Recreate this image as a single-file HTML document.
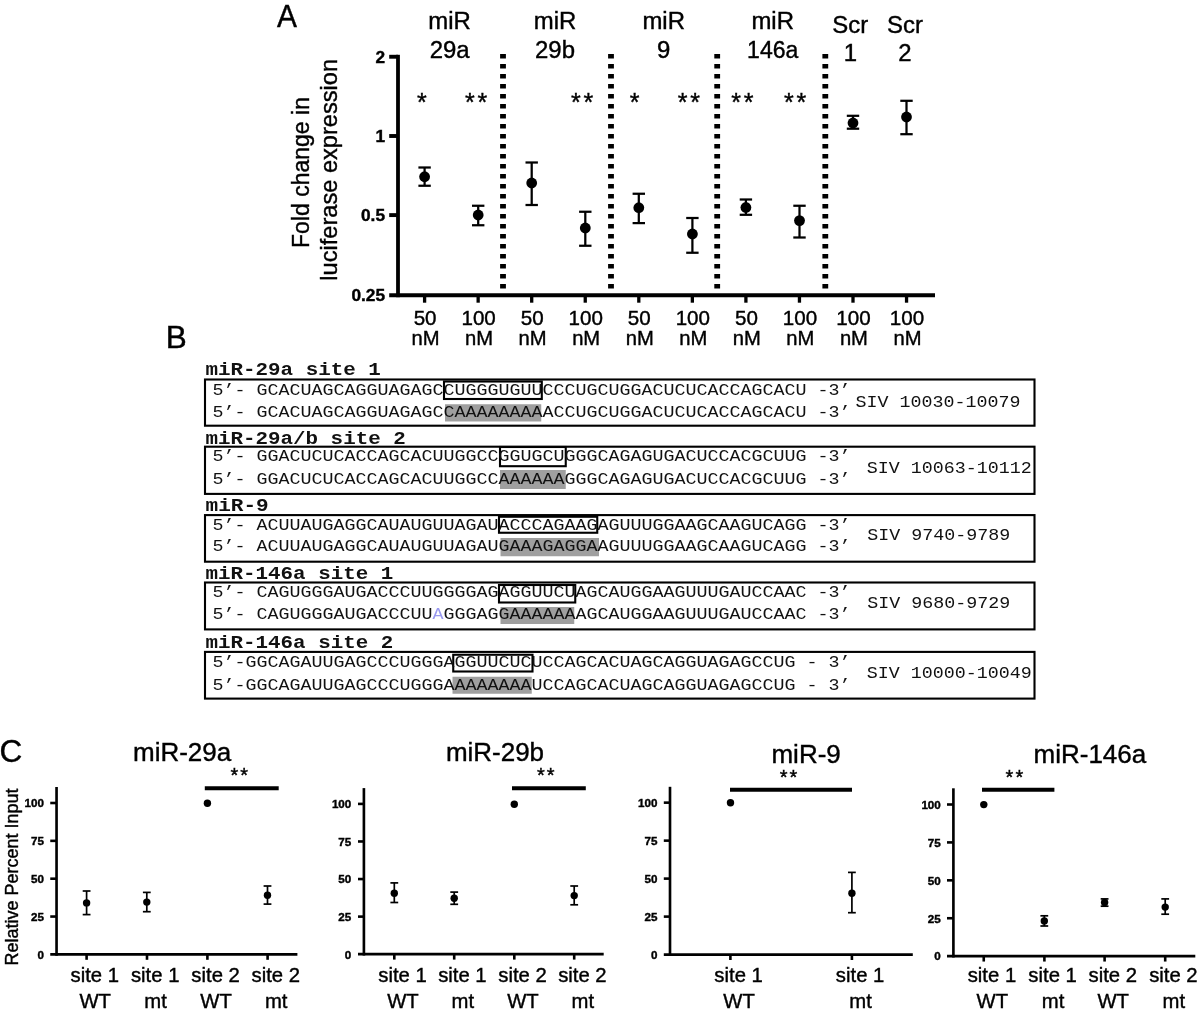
<!DOCTYPE html>
<html lang="en">
<head>
<meta charset="utf-8">
<title>Figure</title>
<style>
html,body{margin:0;padding:0;background:#fff;}
body{width:1200px;height:1013px;overflow:hidden;}
svg{display:block;}
.s{font-family:"Liberation Sans", sans-serif;fill:#000;stroke:#000;stroke-width:0.4px;}
.m{font-family:"Liberation Mono", monospace;fill:#111;}
</style>
</head>
<body>
<svg width="1200" height="1013" viewBox="0 0 1200 1013">
<rect x="0" y="0" width="1200" height="1013" fill="#fff"/>
<text class="s" transform="translate(277 26.7) scale(0.95 1)" font-size="31.5">A</text>
<line x1="398" y1="54.8" x2="398" y2="297.2" stroke="#000" stroke-width="3.8"/>
<line x1="389.2" y1="295.2" x2="935" y2="295.2" stroke="#000" stroke-width="3.9"/>
<line x1="389.2" y1="56.75" x2="398" y2="56.75" stroke="#000" stroke-width="3.9"/>
<text class="s" transform="translate(385.0 62.65) scale(1.04 1)" font-size="16.6" text-anchor="end" font-weight="bold">2</text>
<line x1="389.2" y1="136.0" x2="398" y2="136.0" stroke="#000" stroke-width="3.9"/>
<text class="s" transform="translate(385.0 141.9) scale(1.04 1)" font-size="16.6" text-anchor="end" font-weight="bold">1</text>
<line x1="389.2" y1="215.1" x2="398" y2="215.1" stroke="#000" stroke-width="3.9"/>
<text class="s" transform="translate(385.0 221.0) scale(1.04 1)" font-size="16.6" text-anchor="end" font-weight="bold">0.5</text>
<text class="s" transform="translate(385.0 301.1) scale(1.04 1)" font-size="16.6" text-anchor="end" font-weight="bold">0.25</text>
<line x1="424.6" y1="295.2" x2="424.6" y2="302.7" stroke="#000" stroke-width="3.3"/>
<line x1="478.15" y1="295.2" x2="478.15" y2="302.7" stroke="#000" stroke-width="3.3"/>
<line x1="531.7" y1="295.2" x2="531.7" y2="302.7" stroke="#000" stroke-width="3.3"/>
<line x1="585.25" y1="295.2" x2="585.25" y2="302.7" stroke="#000" stroke-width="3.3"/>
<line x1="638.8" y1="295.2" x2="638.8" y2="302.7" stroke="#000" stroke-width="3.3"/>
<line x1="692.35" y1="295.2" x2="692.35" y2="302.7" stroke="#000" stroke-width="3.3"/>
<line x1="745.9" y1="295.2" x2="745.9" y2="302.7" stroke="#000" stroke-width="3.3"/>
<line x1="799.45" y1="295.2" x2="799.45" y2="302.7" stroke="#000" stroke-width="3.3"/>
<line x1="853.0" y1="295.2" x2="853.0" y2="302.7" stroke="#000" stroke-width="3.3"/>
<line x1="906.55" y1="295.2" x2="906.55" y2="302.7" stroke="#000" stroke-width="3.3"/>
<text class="s" transform="translate(425.1 324.5) scale(1.02 1)" font-size="20.2" text-anchor="middle">50</text>
<text class="s" x="425.5" y="344.5" font-size="20.2" text-anchor="middle">nM</text>
<text class="s" transform="translate(478.65 324.5) scale(1.02 1)" font-size="20.2" text-anchor="middle">100</text>
<text class="s" x="479.05" y="344.5" font-size="20.2" text-anchor="middle">nM</text>
<text class="s" transform="translate(532.2 324.5) scale(1.02 1)" font-size="20.2" text-anchor="middle">50</text>
<text class="s" x="532.6" y="344.5" font-size="20.2" text-anchor="middle">nM</text>
<text class="s" transform="translate(585.75 324.5) scale(1.02 1)" font-size="20.2" text-anchor="middle">100</text>
<text class="s" x="586.15" y="344.5" font-size="20.2" text-anchor="middle">nM</text>
<text class="s" transform="translate(639.3 324.5) scale(1.02 1)" font-size="20.2" text-anchor="middle">50</text>
<text class="s" x="639.7" y="344.5" font-size="20.2" text-anchor="middle">nM</text>
<text class="s" transform="translate(692.85 324.5) scale(1.02 1)" font-size="20.2" text-anchor="middle">100</text>
<text class="s" x="693.25" y="344.5" font-size="20.2" text-anchor="middle">nM</text>
<text class="s" transform="translate(746.4 324.5) scale(1.02 1)" font-size="20.2" text-anchor="middle">50</text>
<text class="s" x="746.8" y="344.5" font-size="20.2" text-anchor="middle">nM</text>
<text class="s" transform="translate(799.95 324.5) scale(1.02 1)" font-size="20.2" text-anchor="middle">100</text>
<text class="s" x="800.35" y="344.5" font-size="20.2" text-anchor="middle">nM</text>
<text class="s" transform="translate(853.5 324.5) scale(1.02 1)" font-size="20.2" text-anchor="middle">100</text>
<text class="s" x="853.9" y="344.5" font-size="20.2" text-anchor="middle">nM</text>
<text class="s" transform="translate(907.05 324.5) scale(1.02 1)" font-size="20.2" text-anchor="middle">100</text>
<text class="s" x="907.45" y="344.5" font-size="20.2" text-anchor="middle">nM</text>
<line x1="503" y1="53.9" x2="503" y2="289.5" stroke="#000" stroke-width="5.8" stroke-dasharray="4.6 5.4"/>
<line x1="611" y1="53.9" x2="611" y2="289.5" stroke="#000" stroke-width="5.8" stroke-dasharray="4.6 5.4"/>
<line x1="717.2" y1="53.9" x2="717.2" y2="289.5" stroke="#000" stroke-width="5.8" stroke-dasharray="4.6 5.4"/>
<line x1="825.3" y1="53.9" x2="825.3" y2="289.5" stroke="#000" stroke-width="5.8" stroke-dasharray="4.6 5.4"/>
<text class="s" transform="translate(449.6 29.3) scale(1.04 1)" font-size="23" text-anchor="middle">miR</text>
<text class="s" transform="translate(449.6 57.5) scale(1.04 1)" font-size="23" text-anchor="middle">29a</text>
<text class="s" transform="translate(555 29.3) scale(1.04 1)" font-size="23" text-anchor="middle">miR</text>
<text class="s" transform="translate(555 57.5) scale(1.04 1)" font-size="23" text-anchor="middle">29b</text>
<text class="s" transform="translate(663.7 29.3) scale(1.04 1)" font-size="23" text-anchor="middle">miR</text>
<text class="s" transform="translate(663.7 57.5) scale(1.04 1)" font-size="23" text-anchor="middle">9</text>
<text class="s" transform="translate(772.7 29.3) scale(1.04 1)" font-size="23" text-anchor="middle">miR</text>
<text class="s" x="772.7" y="57.5" font-size="23" text-anchor="middle">146a</text>
<text class="s" transform="translate(850.3 33) scale(1.04 1)" font-size="23" text-anchor="middle">Scr</text>
<text class="s" transform="translate(850.3 61.3) scale(1.04 1)" font-size="23" text-anchor="middle">1</text>
<text class="s" transform="translate(905.0 33) scale(1.04 1)" font-size="23" text-anchor="middle">Scr</text>
<text class="s" transform="translate(905.0 61.3) scale(1.04 1)" font-size="23" text-anchor="middle">2</text>
<text class="s" font-size="23" text-anchor="middle" transform="translate(308.5 172.5) rotate(-90)">Fold change in</text>
<text class="s" font-size="23" text-anchor="middle" transform="translate(337.3 169.8) rotate(-90) scale(1.027 1)">luciferase expression</text>
<text class="s" x="421.8" y="111.0" font-size="25" text-anchor="middle">*</text>
<text class="s" x="477.6" y="111.0" font-size="25" text-anchor="middle" letter-spacing="2.8">**</text>
<text class="s" x="583.6" y="111.0" font-size="25" text-anchor="middle" letter-spacing="2.8">**</text>
<text class="s" x="634.5999999999999" y="111.0" font-size="25" text-anchor="middle">*</text>
<text class="s" x="690.2" y="111.0" font-size="25" text-anchor="middle" letter-spacing="2.8">**</text>
<text class="s" x="743.7" y="111.0" font-size="25" text-anchor="middle" letter-spacing="2.8">**</text>
<text class="s" x="796.6" y="111.0" font-size="25" text-anchor="middle" letter-spacing="2.8">**</text>
<line x1="424.6" y1="167.5" x2="424.6" y2="185.75" stroke="#000" stroke-width="2.25"/>
<line x1="418.40000000000003" y1="167.5" x2="430.8" y2="167.5" stroke="#000" stroke-width="2.25"/>
<line x1="418.40000000000003" y1="185.75" x2="430.8" y2="185.75" stroke="#000" stroke-width="2.25"/>
<circle cx="424.6" cy="176.75" r="5.4" fill="#000"/>
<line x1="478.2" y1="205.75" x2="478.2" y2="225.25" stroke="#000" stroke-width="2.25"/>
<line x1="472.0" y1="205.75" x2="484.4" y2="205.75" stroke="#000" stroke-width="2.25"/>
<line x1="472.0" y1="225.25" x2="484.4" y2="225.25" stroke="#000" stroke-width="2.25"/>
<circle cx="478.2" cy="215.0" r="5.4" fill="#000"/>
<line x1="531.7" y1="162.5" x2="531.7" y2="205.0" stroke="#000" stroke-width="2.25"/>
<line x1="525.5" y1="162.5" x2="537.9000000000001" y2="162.5" stroke="#000" stroke-width="2.25"/>
<line x1="525.5" y1="205.0" x2="537.9000000000001" y2="205.0" stroke="#000" stroke-width="2.25"/>
<circle cx="531.7" cy="183.0" r="5.4" fill="#000"/>
<line x1="585.3" y1="211.75" x2="585.3" y2="245.75" stroke="#000" stroke-width="2.25"/>
<line x1="579.0999999999999" y1="211.75" x2="591.5" y2="211.75" stroke="#000" stroke-width="2.25"/>
<line x1="579.0999999999999" y1="245.75" x2="591.5" y2="245.75" stroke="#000" stroke-width="2.25"/>
<circle cx="585.3" cy="228.0" r="5.4" fill="#000"/>
<line x1="638.8" y1="193.75" x2="638.8" y2="223.1" stroke="#000" stroke-width="2.25"/>
<line x1="632.5999999999999" y1="193.75" x2="645.0" y2="193.75" stroke="#000" stroke-width="2.25"/>
<line x1="632.5999999999999" y1="223.1" x2="645.0" y2="223.1" stroke="#000" stroke-width="2.25"/>
<circle cx="638.8" cy="207.7" r="5.4" fill="#000"/>
<line x1="692.4" y1="218.0" x2="692.4" y2="252.75" stroke="#000" stroke-width="2.25"/>
<line x1="686.1999999999999" y1="218.0" x2="698.6" y2="218.0" stroke="#000" stroke-width="2.25"/>
<line x1="686.1999999999999" y1="252.75" x2="698.6" y2="252.75" stroke="#000" stroke-width="2.25"/>
<circle cx="692.4" cy="234.0" r="5.4" fill="#000"/>
<line x1="745.9" y1="199.5" x2="745.9" y2="214.8" stroke="#000" stroke-width="2.25"/>
<line x1="739.6999999999999" y1="199.5" x2="752.1" y2="199.5" stroke="#000" stroke-width="2.25"/>
<line x1="739.6999999999999" y1="214.8" x2="752.1" y2="214.8" stroke="#000" stroke-width="2.25"/>
<circle cx="745.9" cy="207.5" r="5.4" fill="#000"/>
<line x1="799.5" y1="205.75" x2="799.5" y2="237.5" stroke="#000" stroke-width="2.25"/>
<line x1="793.3" y1="205.75" x2="805.7" y2="205.75" stroke="#000" stroke-width="2.25"/>
<line x1="793.3" y1="237.5" x2="805.7" y2="237.5" stroke="#000" stroke-width="2.25"/>
<circle cx="799.5" cy="220.6" r="5.4" fill="#000"/>
<line x1="853.0" y1="115.8" x2="853.0" y2="128.7" stroke="#000" stroke-width="2.25"/>
<line x1="846.8" y1="115.8" x2="859.2" y2="115.8" stroke="#000" stroke-width="2.25"/>
<line x1="846.8" y1="128.7" x2="859.2" y2="128.7" stroke="#000" stroke-width="2.25"/>
<circle cx="853.0" cy="123.0" r="5.4" fill="#000"/>
<line x1="906.5" y1="100.8" x2="906.5" y2="134.2" stroke="#000" stroke-width="2.25"/>
<line x1="900.3" y1="100.8" x2="912.7" y2="100.8" stroke="#000" stroke-width="2.25"/>
<line x1="900.3" y1="134.2" x2="912.7" y2="134.2" stroke="#000" stroke-width="2.25"/>
<circle cx="906.5" cy="117.0" r="5.4" fill="#000"/>
<text class="s" x="165.8" y="347.8" font-size="31.5">B</text>
<rect x="445" y="404.25" width="96.25" height="17.25" fill="#9f9f9f"/>
<rect x="205" y="379.5" width="829.5" height="46.20" fill="none" stroke="#000" stroke-width="2.1"/>
<rect x="444" y="381.5" width="97.80" height="17.50" fill="none" stroke="#000" stroke-width="2.1"/>
<text class="m" x="205.5" y="375.0" font-size="17.5" font-weight="bold" textLength="175.30" lengthAdjust="spacingAndGlyphs">miR-29a site 1</text>
<text class="m" x="212.5" y="395.0" font-size="16.6" textLength="638.00" lengthAdjust="spacingAndGlyphs">5’- GCACUAGCAGGUAGAGCCUGGGUGUUCCCUGCUGGACUCUCACCAGCACU -3’</text>
<text class="m" x="212.5" y="417.0" font-size="16.6" textLength="638.00" lengthAdjust="spacingAndGlyphs">5’- GCACUAGCAGGUAGAGCCAAAAAAAAACCUGCUGGACUCUCACCAGCACU -3’</text>
<text class="m" x="855.5" y="406.6" font-size="16.6" textLength="165.00" lengthAdjust="spacingAndGlyphs">SIV 10030-10079</text>
<rect x="500" y="470" width="65.75" height="19.00" fill="#9f9f9f"/>
<rect x="205" y="446.7" width="829.5" height="47.20" fill="none" stroke="#000" stroke-width="2.1"/>
<rect x="500" y="447.0" width="65.75" height="19.20" fill="none" stroke="#000" stroke-width="2.1"/>
<text class="m" x="205.5" y="443.75" font-size="17.5" font-weight="bold" textLength="200.20" lengthAdjust="spacingAndGlyphs">miR-29a/b site 2</text>
<text class="m" x="212.5" y="460.8" font-size="16.6" textLength="638.00" lengthAdjust="spacingAndGlyphs">5’- GGACUCUCACCAGCACUUGGCCGGUGCUGGGCAGAGUGACUCCACGCUUG -3’</text>
<text class="m" x="212.5" y="483.9" font-size="16.6" textLength="638.00" lengthAdjust="spacingAndGlyphs">5’- GGACUCUCACCAGCACUUGGCCAAAAAAGGGCAGAGUGACUCCACGCUUG -3’</text>
<text class="m" x="866.8" y="473.0" font-size="16.6" textLength="165.00" lengthAdjust="spacingAndGlyphs">SIV 10063-10112</text>
<rect x="500.5" y="538" width="98.50" height="18.25" fill="#9f9f9f"/>
<rect x="205" y="515.1" width="829.5" height="46.60" fill="none" stroke="#000" stroke-width="2.1"/>
<rect x="499" y="516.75" width="98.25" height="16.00" fill="none" stroke="#000" stroke-width="2.1"/>
<text class="m" x="205.5" y="510.5" font-size="17.5" font-weight="bold" textLength="63.25" lengthAdjust="spacingAndGlyphs">miR-9</text>
<text class="m" x="212.5" y="529.5" font-size="16.6" textLength="638.00" lengthAdjust="spacingAndGlyphs">5’- ACUUAUGAGGCAUAUGUUAGAUACCCAGAAGAGUUUGGAAGCAAGUCAGG -3’</text>
<text class="m" x="212.5" y="551.25" font-size="16.6" textLength="638.00" lengthAdjust="spacingAndGlyphs">5’- ACUUAUGAGGCAUAUGUUAGAUGAAAGAGGAAGUUUGGAAGCAAGUCAGG -3’</text>
<text class="m" x="867.3" y="540.0" font-size="16.6" textLength="143.00" lengthAdjust="spacingAndGlyphs">SIV 9740-9789</text>
<rect x="500.5" y="607" width="73.75" height="17.00" fill="#9f9f9f"/>
<rect x="205" y="582.5" width="829.5" height="46.90" fill="none" stroke="#000" stroke-width="2.1"/>
<rect x="499" y="585" width="76.25" height="17.50" fill="none" stroke="#000" stroke-width="2.1"/>
<text class="m" x="205.5" y="579.25" font-size="17.5" font-weight="bold" textLength="187.75" lengthAdjust="spacingAndGlyphs">miR-146a site 1</text>
<text class="m" x="212.5" y="596.8" font-size="16.6" textLength="638.00" lengthAdjust="spacingAndGlyphs">5’- CAGUGGGAUGACCCUUGGGGAGAGGUUCUAGCAUGGAAGUUUGAUCCAAC -3’</text>
<text class="m" x="212.5" y="619.25" font-size="16.6" textLength="638.00" lengthAdjust="spacingAndGlyphs">5’- CAGUGGGAUGACCCUU<tspan fill="#9a9af0">A</tspan>GGGAGGAAAAAAAGCAUGGAAGUUUGAUCCAAC -3’</text>
<text class="m" x="867.3" y="608.4" font-size="16.6" textLength="143.00" lengthAdjust="spacingAndGlyphs">SIV 9680-9729</text>
<rect x="452.5" y="676.75" width="79.25" height="17.00" fill="#9f9f9f"/>
<rect x="205" y="651.9" width="829.5" height="46.70" fill="none" stroke="#000" stroke-width="2.1"/>
<rect x="453.25" y="654.75" width="79.25" height="16.75" fill="none" stroke="#000" stroke-width="2.1"/>
<text class="m" x="205.5" y="648.25" font-size="17.5" font-weight="bold" textLength="187.75" lengthAdjust="spacingAndGlyphs">miR-146a site 2</text>
<text class="m" x="212.5" y="666.9" font-size="16.6" textLength="638.00" lengthAdjust="spacingAndGlyphs">5’-GGCAGAUUGAGCCCUGGGAGGUUCUCUCCAGCACUAGCAGGUAGAGCCUG - 3’</text>
<text class="m" x="212.5" y="690.0" font-size="16.6" textLength="638.00" lengthAdjust="spacingAndGlyphs">5’-GGCAGAUUGAGCCCUGGGAAAAAAAAUCCAGCACUAGCAGGUAGAGCCUG - 3’</text>
<text class="m" x="866.8" y="678.0" font-size="16.6" textLength="165.00" lengthAdjust="spacingAndGlyphs">SIV 10000-10049</text>
<text class="s" x="-0.4" y="762.4" font-size="31.5">C</text>
<text class="s" font-size="17.8" text-anchor="middle" transform="translate(18.4 877.0) rotate(-90) scale(1.012 1)">Relative Percent Input</text>
<text class="s" transform="translate(182.1 760.9) scale(1.015 1)" font-size="25.6" text-anchor="middle">miR-29a</text>
<line x1="56.55" y1="787.0" x2="56.55" y2="955.75" stroke="#000" stroke-width="2.65"/>
<line x1="50.25" y1="954.4" x2="297.4" y2="954.4" stroke="#000" stroke-width="2.7"/>
<line x1="50.25" y1="803.0" x2="56.55" y2="803.0" stroke="#000" stroke-width="2.6"/>
<text class="s" transform="translate(43.95 807.3) scale(1.03 1)" font-size="11.3" text-anchor="end" font-weight="bold">100</text>
<line x1="50.25" y1="840.85" x2="56.55" y2="840.85" stroke="#000" stroke-width="2.6"/>
<text class="s" transform="translate(43.95 845.15) scale(1.03 1)" font-size="11.3" text-anchor="end" font-weight="bold">75</text>
<line x1="50.25" y1="878.7" x2="56.55" y2="878.7" stroke="#000" stroke-width="2.6"/>
<text class="s" transform="translate(43.95 883.0) scale(1.03 1)" font-size="11.3" text-anchor="end" font-weight="bold">50</text>
<line x1="50.25" y1="916.55" x2="56.55" y2="916.55" stroke="#000" stroke-width="2.6"/>
<text class="s" transform="translate(43.95 920.85) scale(1.03 1)" font-size="11.3" text-anchor="end" font-weight="bold">25</text>
<text class="s" transform="translate(43.95 958.7) scale(1.03 1)" font-size="11.3" text-anchor="end" font-weight="bold">0</text>
<line x1="86.6" y1="954.4" x2="86.6" y2="959.8" stroke="#000" stroke-width="2.6"/>
<text class="s" x="94.8" y="981.8" font-size="20.3" text-anchor="middle">site 1</text>
<text class="s" x="95.2" y="1008.4" font-size="20.3" text-anchor="middle">WT</text>
<line x1="147.0" y1="954.4" x2="147.0" y2="959.8" stroke="#000" stroke-width="2.6"/>
<text class="s" x="155.2" y="981.8" font-size="20.3" text-anchor="middle">site 1</text>
<text class="s" x="155.6" y="1008.4" font-size="20.3" text-anchor="middle">mt</text>
<line x1="207.4" y1="954.4" x2="207.4" y2="959.8" stroke="#000" stroke-width="2.6"/>
<text class="s" x="215.6" y="981.8" font-size="20.3" text-anchor="middle">site 2</text>
<text class="s" x="216.0" y="1008.4" font-size="20.3" text-anchor="middle">WT</text>
<line x1="267.6" y1="954.4" x2="267.6" y2="959.8" stroke="#000" stroke-width="2.6"/>
<text class="s" x="275.8" y="981.8" font-size="20.3" text-anchor="middle">site 2</text>
<text class="s" x="276.2" y="1008.4" font-size="20.3" text-anchor="middle">mt</text>
<line x1="86.6" y1="891.0" x2="86.6" y2="914.6" stroke="#000" stroke-width="1.7"/>
<line x1="82.69999999999999" y1="891.0" x2="90.5" y2="891.0" stroke="#000" stroke-width="1.7"/>
<line x1="82.69999999999999" y1="914.6" x2="90.5" y2="914.6" stroke="#000" stroke-width="1.7"/>
<circle cx="86.6" cy="902.9" r="3.7" fill="#000"/>
<line x1="146.8" y1="892.4" x2="146.8" y2="911.7" stroke="#000" stroke-width="1.7"/>
<line x1="142.9" y1="892.4" x2="150.70000000000002" y2="892.4" stroke="#000" stroke-width="1.7"/>
<line x1="142.9" y1="911.7" x2="150.70000000000002" y2="911.7" stroke="#000" stroke-width="1.7"/>
<circle cx="146.8" cy="902.1" r="3.7" fill="#000"/>
<circle cx="207.4" cy="803.2" r="3.7" fill="#000"/>
<line x1="267.5" y1="886.0" x2="267.5" y2="904.1" stroke="#000" stroke-width="1.7"/>
<line x1="263.6" y1="886.0" x2="271.4" y2="886.0" stroke="#000" stroke-width="1.7"/>
<line x1="263.6" y1="904.1" x2="271.4" y2="904.1" stroke="#000" stroke-width="1.7"/>
<circle cx="267.5" cy="895.2" r="3.7" fill="#000"/>
<line x1="204.8" y1="788.3" x2="278.7" y2="788.3" stroke="#000" stroke-width="4.0"/>
<text class="s" x="240.20000000000002" y="781.8" font-size="20" text-anchor="middle" letter-spacing="2.0">**</text>
<text class="s" transform="translate(495.0 760.9) scale(1.015 1)" font-size="25.6" text-anchor="middle">miR-29b</text>
<line x1="363.9" y1="788.1" x2="363.9" y2="955.5500000000001" stroke="#000" stroke-width="2.65"/>
<line x1="358.0" y1="954.2" x2="603.7" y2="954.2" stroke="#000" stroke-width="2.7"/>
<line x1="358.0" y1="803.9" x2="363.9" y2="803.9" stroke="#000" stroke-width="2.6"/>
<text class="s" transform="translate(351.3 808.2) scale(1.03 1)" font-size="11.3" text-anchor="end" font-weight="bold">100</text>
<line x1="358.0" y1="841.48" x2="363.9" y2="841.48" stroke="#000" stroke-width="2.6"/>
<text class="s" transform="translate(351.3 845.77) scale(1.03 1)" font-size="11.3" text-anchor="end" font-weight="bold">75</text>
<line x1="358.0" y1="879.05" x2="363.9" y2="879.05" stroke="#000" stroke-width="2.6"/>
<text class="s" transform="translate(351.3 883.35) scale(1.03 1)" font-size="11.3" text-anchor="end" font-weight="bold">50</text>
<line x1="358.0" y1="916.62" x2="363.9" y2="916.62" stroke="#000" stroke-width="2.6"/>
<text class="s" transform="translate(351.3 920.92) scale(1.03 1)" font-size="11.3" text-anchor="end" font-weight="bold">25</text>
<text class="s" transform="translate(351.3 958.5) scale(1.03 1)" font-size="11.3" text-anchor="end" font-weight="bold">0</text>
<line x1="394.3" y1="954.2" x2="394.3" y2="959.6" stroke="#000" stroke-width="2.6"/>
<text class="s" x="402.5" y="981.8" font-size="20.3" text-anchor="middle">site 1</text>
<text class="s" x="402.9" y="1008.4" font-size="20.3" text-anchor="middle">WT</text>
<line x1="454.2" y1="954.2" x2="454.2" y2="959.6" stroke="#000" stroke-width="2.6"/>
<text class="s" x="462.4" y="981.8" font-size="20.3" text-anchor="middle">site 1</text>
<text class="s" x="462.8" y="1008.4" font-size="20.3" text-anchor="middle">mt</text>
<line x1="514.3" y1="954.2" x2="514.3" y2="959.6" stroke="#000" stroke-width="2.6"/>
<text class="s" x="522.5" y="981.8" font-size="20.3" text-anchor="middle">site 2</text>
<text class="s" x="522.9" y="1008.4" font-size="20.3" text-anchor="middle">WT</text>
<line x1="574.2" y1="954.2" x2="574.2" y2="959.6" stroke="#000" stroke-width="2.6"/>
<text class="s" x="582.4" y="981.8" font-size="20.3" text-anchor="middle">site 2</text>
<text class="s" x="582.8" y="1008.4" font-size="20.3" text-anchor="middle">mt</text>
<line x1="394.3" y1="882.9" x2="394.3" y2="902.5" stroke="#000" stroke-width="1.7"/>
<line x1="390.40000000000003" y1="882.9" x2="398.2" y2="882.9" stroke="#000" stroke-width="1.7"/>
<line x1="390.40000000000003" y1="902.5" x2="398.2" y2="902.5" stroke="#000" stroke-width="1.7"/>
<circle cx="394.3" cy="893.3" r="3.7" fill="#000"/>
<line x1="454.2" y1="892.1" x2="454.2" y2="904.3" stroke="#000" stroke-width="1.7"/>
<line x1="450.3" y1="892.1" x2="458.09999999999997" y2="892.1" stroke="#000" stroke-width="1.7"/>
<line x1="450.3" y1="904.3" x2="458.09999999999997" y2="904.3" stroke="#000" stroke-width="1.7"/>
<circle cx="454.2" cy="898.2" r="3.7" fill="#000"/>
<circle cx="514.3" cy="804.2" r="3.7" fill="#000"/>
<line x1="574.2" y1="886.0" x2="574.2" y2="904.8" stroke="#000" stroke-width="1.7"/>
<line x1="570.3000000000001" y1="886.0" x2="578.1" y2="886.0" stroke="#000" stroke-width="1.7"/>
<line x1="570.3000000000001" y1="904.8" x2="578.1" y2="904.8" stroke="#000" stroke-width="1.7"/>
<circle cx="574.2" cy="895.6" r="3.7" fill="#000"/>
<line x1="512.0" y1="788.3" x2="585.8" y2="788.3" stroke="#000" stroke-width="4.0"/>
<text class="s" x="546.8" y="781.8" font-size="20" text-anchor="middle" letter-spacing="2.0">**</text>
<text class="s" transform="translate(806.1 762.5) scale(1.015 1)" font-size="25.6" text-anchor="middle">miR-9</text>
<line x1="670.0" y1="786.8" x2="670.0" y2="955.95" stroke="#000" stroke-width="2.65"/>
<line x1="663.8" y1="954.6" x2="912.8" y2="954.6" stroke="#000" stroke-width="2.7"/>
<line x1="663.8" y1="802.65" x2="670.0" y2="802.65" stroke="#000" stroke-width="2.6"/>
<text class="s" transform="translate(657.4 806.95) scale(1.03 1)" font-size="11.3" text-anchor="end" font-weight="bold">100</text>
<line x1="663.8" y1="840.64" x2="670.0" y2="840.64" stroke="#000" stroke-width="2.6"/>
<text class="s" transform="translate(657.4 844.94) scale(1.03 1)" font-size="11.3" text-anchor="end" font-weight="bold">75</text>
<line x1="663.8" y1="878.62" x2="670.0" y2="878.62" stroke="#000" stroke-width="2.6"/>
<text class="s" transform="translate(657.4 882.92) scale(1.03 1)" font-size="11.3" text-anchor="end" font-weight="bold">50</text>
<line x1="663.8" y1="916.61" x2="670.0" y2="916.61" stroke="#000" stroke-width="2.6"/>
<text class="s" transform="translate(657.4 920.91) scale(1.03 1)" font-size="11.3" text-anchor="end" font-weight="bold">25</text>
<text class="s" transform="translate(657.4 958.9) scale(1.03 1)" font-size="11.3" text-anchor="end" font-weight="bold">0</text>
<line x1="730.4" y1="954.6" x2="730.4" y2="960.0" stroke="#000" stroke-width="2.6"/>
<text class="s" x="738.6" y="981.8" font-size="20.3" text-anchor="middle">site 1</text>
<text class="s" x="739.0" y="1008.4" font-size="20.3" text-anchor="middle">WT</text>
<line x1="851.9" y1="954.6" x2="851.9" y2="960.0" stroke="#000" stroke-width="2.6"/>
<text class="s" x="860.1" y="981.8" font-size="20.3" text-anchor="middle">site 1</text>
<text class="s" x="860.5" y="1008.4" font-size="20.3" text-anchor="middle">mt</text>
<circle cx="730.5" cy="802.8" r="3.7" fill="#000"/>
<line x1="851.9" y1="872.4" x2="851.9" y2="912.7" stroke="#000" stroke-width="1.7"/>
<line x1="848.0" y1="872.4" x2="855.8" y2="872.4" stroke="#000" stroke-width="1.7"/>
<line x1="848.0" y1="912.7" x2="855.8" y2="912.7" stroke="#000" stroke-width="1.7"/>
<circle cx="851.9" cy="893.3" r="3.7" fill="#000"/>
<line x1="730.0" y1="789.65" x2="852.0" y2="789.65" stroke="#000" stroke-width="4.0"/>
<text class="s" x="789.6" y="783.8" font-size="20" text-anchor="middle" letter-spacing="2.0">**</text>
<text class="s" transform="translate(1089.9 762.8) scale(1.015 1)" font-size="25.6" text-anchor="middle">miR-146a</text>
<line x1="953.4" y1="788.3" x2="953.4" y2="957.5" stroke="#000" stroke-width="2.65"/>
<line x1="947.0" y1="956.15" x2="1195.3" y2="956.15" stroke="#000" stroke-width="2.7"/>
<line x1="947.0" y1="804.5" x2="953.4" y2="804.5" stroke="#000" stroke-width="2.6"/>
<text class="s" transform="translate(940.8 808.8) scale(1.03 1)" font-size="11.3" text-anchor="end" font-weight="bold">100</text>
<line x1="947.0" y1="842.41" x2="953.4" y2="842.41" stroke="#000" stroke-width="2.6"/>
<text class="s" transform="translate(940.8 846.71) scale(1.03 1)" font-size="11.3" text-anchor="end" font-weight="bold">75</text>
<line x1="947.0" y1="880.33" x2="953.4" y2="880.33" stroke="#000" stroke-width="2.6"/>
<text class="s" transform="translate(940.8 884.62) scale(1.03 1)" font-size="11.3" text-anchor="end" font-weight="bold">50</text>
<line x1="947.0" y1="918.24" x2="953.4" y2="918.24" stroke="#000" stroke-width="2.6"/>
<text class="s" transform="translate(940.8 922.54) scale(1.03 1)" font-size="11.3" text-anchor="end" font-weight="bold">25</text>
<text class="s" transform="translate(940.8 960.45) scale(1.03 1)" font-size="11.3" text-anchor="end" font-weight="bold">0</text>
<line x1="983.75" y1="956.15" x2="983.75" y2="961.55" stroke="#000" stroke-width="2.6"/>
<text class="s" x="991.95" y="981.8" font-size="20.3" text-anchor="middle">site 1</text>
<text class="s" x="992.35" y="1008.4" font-size="20.3" text-anchor="middle">WT</text>
<line x1="1044.4" y1="956.15" x2="1044.4" y2="961.55" stroke="#000" stroke-width="2.6"/>
<text class="s" x="1052.6" y="981.8" font-size="20.3" text-anchor="middle">site 1</text>
<text class="s" x="1053.0" y="1008.4" font-size="20.3" text-anchor="middle">mt</text>
<line x1="1104.6" y1="956.15" x2="1104.6" y2="961.55" stroke="#000" stroke-width="2.6"/>
<text class="s" x="1112.8" y="981.8" font-size="20.3" text-anchor="middle">site 2</text>
<text class="s" x="1113.2" y="1008.4" font-size="20.3" text-anchor="middle">WT</text>
<line x1="1165.2" y1="956.15" x2="1165.2" y2="961.55" stroke="#000" stroke-width="2.6"/>
<text class="s" x="1173.4" y="981.8" font-size="20.3" text-anchor="middle">site 2</text>
<text class="s" x="1173.8" y="1008.4" font-size="20.3" text-anchor="middle">mt</text>
<circle cx="983.8" cy="804.6" r="3.7" fill="#000"/>
<line x1="1044.3" y1="915.8" x2="1044.3" y2="926.0" stroke="#000" stroke-width="1.7"/>
<line x1="1040.3999999999999" y1="915.8" x2="1048.2" y2="915.8" stroke="#000" stroke-width="1.7"/>
<line x1="1040.3999999999999" y1="926.0" x2="1048.2" y2="926.0" stroke="#000" stroke-width="1.7"/>
<circle cx="1044.3" cy="921.0" r="3.7" fill="#000"/>
<line x1="1104.6" y1="898.9" x2="1104.6" y2="906.2" stroke="#000" stroke-width="1.7"/>
<line x1="1100.6999999999998" y1="898.9" x2="1108.5" y2="898.9" stroke="#000" stroke-width="1.7"/>
<line x1="1100.6999999999998" y1="906.2" x2="1108.5" y2="906.2" stroke="#000" stroke-width="1.7"/>
<circle cx="1104.6" cy="902.5" r="3.7" fill="#000"/>
<line x1="1165.2" y1="898.9" x2="1165.2" y2="914.2" stroke="#000" stroke-width="1.7"/>
<line x1="1161.3" y1="898.9" x2="1169.1000000000001" y2="898.9" stroke="#000" stroke-width="1.7"/>
<line x1="1161.3" y1="914.2" x2="1169.1000000000001" y2="914.2" stroke="#000" stroke-width="1.7"/>
<circle cx="1165.2" cy="907.1" r="3.7" fill="#000"/>
<line x1="982.0" y1="789.65" x2="1054.4" y2="789.65" stroke="#000" stroke-width="4.0"/>
<text class="s" x="1015.4" y="783.8" font-size="20" text-anchor="middle" letter-spacing="2.0">**</text>
</svg>
</body>
</html>
